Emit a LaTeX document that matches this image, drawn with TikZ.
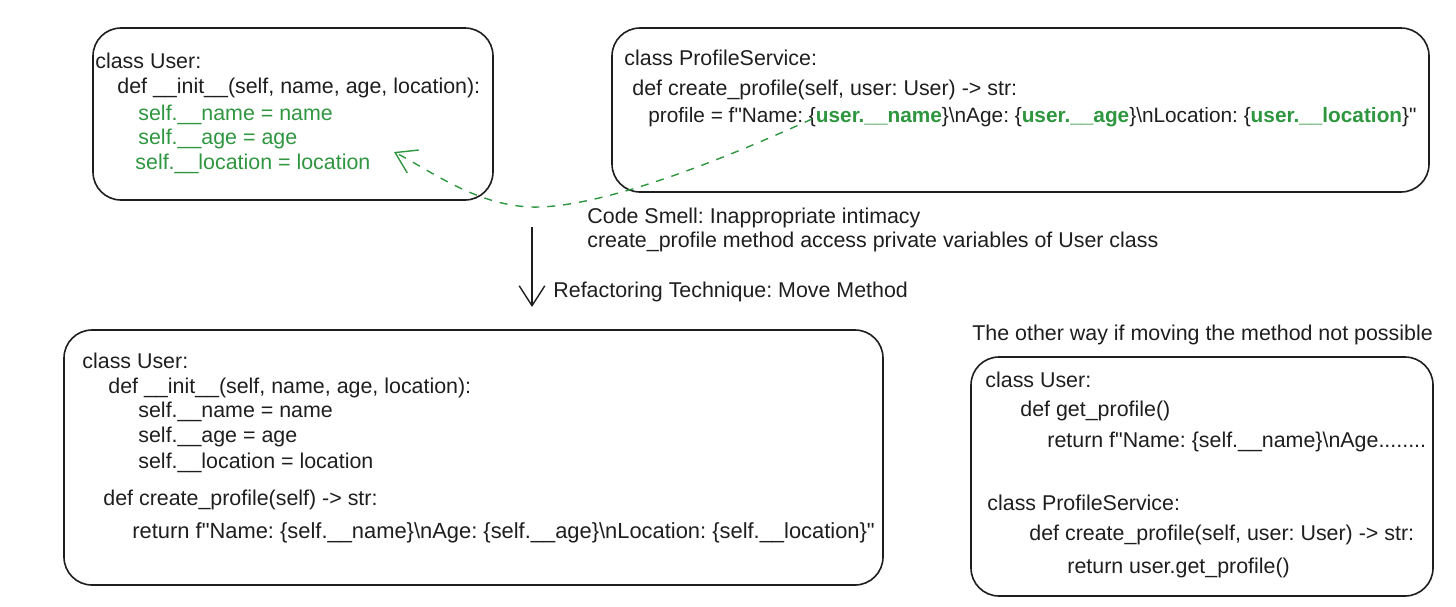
\documentclass[tikz,border=0pt]{standalone}
\usepackage{fontspec}
\setmainfont{Liberation Sans}[Ligatures=TeXOff]
\usetikzlibrary{arrows.meta,positioning}
\definecolor{ink}{RGB}{30,30,30}
\definecolor{grn}{RGB}{47,150,64}
\frenchspacing
\newcommand{\codefont}{\fontsize{10.7}{13}\selectfont}
\newcommand{\hl}[1]{\textcolor{grn}{\textbf{#1}}}
\newcommand{\dq}{\char34\relax}
\tikzset{
  codebox/.style={draw=ink,line width=0.8pt,rounded corners=14pt,inner sep=0pt},
  code/.style={anchor=base west,inner sep=0pt,font=\codefont,text=ink},
  hot/.style={code,text=grn},
  smell/.style={-{Straight Barb[length=3.5mm,width=4.5mm]},dash pattern=on 4pt off 4pt,
    draw=grn,line width=0.7pt},
  movearr/.style={-{Straight Barb[length=3.5mm,width=4.5mm]},draw=ink,line width=0.7pt},
}

\begin{document}
\begin{tikzpicture}[x=0.5pt,y=-0.5pt]
\useasboundingbox (0,0) rectangle (1456,606);
% before: User with private fields
\node[codebox,minimum width=200pt,minimum height=86pt] (olduser) at (293,114) {};
\node[code] (ou1) at (95,68) {class User:};
\node[code] (ou2) at (117,93) {def \_\_init\_\_(self, name, age, location):};
\node[hot] (ou3) at (138,120) {self.\_\_name = name};
\node[hot] (ou4) at (138,144) {self.\_\_age = age};
\node[hot] (ou5) at (135,169) {self.\_\_location = location};
% before: ProfileService reaching into User
\node[codebox,minimum width=408.5pt,minimum height=82pt] (oldsvc) at (1020.5,110) {};
\node[code] (os1) at (624,65) {class ProfileService:};
\node[code] (os2) at (632,95) {def create\_profile(self, user: User) -> str:};
\node[code,font=\fontsize{10.4}{13}\selectfont] (os3) at (648,122)
  {profile = f\dq Name: \{\hl{user.\_\_name}\}\textbackslash nAge: \{\hl{user.\_\_age}\}\textbackslash nLocation: \{\hl{user.\_\_location}\}\dq};
\coordinate (smellfrom) at (812,119);
\coordinate (smellto) at (394,152);
\draw[smell] (smellfrom) .. controls (700,170) and (600,205) .. (540,207)
  .. controls (480,209) and (430,170) .. (smellto);
\node[code] (smell1) at (587,223) {Code Smell: Inappropriate intimacy};
\node[code] (smell2) at (587,247) {create\_profile method access private variables of User class};
% refactoring step
\coordinate (movetop) at (532,227);
\coordinate (movebot) at (532,307);
\draw[movearr] (movetop) -- (movebot);
\node[code] (movelbl) at (553,297) {Refactoring Technique: Move Method};
% after: method moved into User
\node[codebox,minimum width=409.5pt,minimum height=127.5pt] (newuser) at (473.5,457.5) {};
\node[code] (nu1) at (82,368) {class User:};
\node[code] (nu2) at (108,393) {def \_\_init\_\_(self, name, age, location):};
\node[code] (nu3) at (138,417) {self.\_\_name = name};
\node[code] (nu4) at (138,442) {self.\_\_age = age};
\node[code] (nu5) at (138,468) {self.\_\_location = location};
\node[code] (nu6) at (103,505) {def create\_profile(self) -> str:};
\node[code,font=\fontsize{10.95}{13}\selectfont] (nu7) at (132,538)
  {return f\dq Name: \{self.\_\_name\}\textbackslash nAge: \{self.\_\_age\}\textbackslash nLocation: \{self.\_\_location\}\dq};
% alternative: getter on User
\node[code] (altlbl) at (972,340) {The other way if moving the method not possible};
\node[codebox,minimum width=231pt,minimum height=119.5pt] (altbox) at (1202,476.5) {};
\node[code] (al1) at (985,387) {class User:};
\node[code] (al2) at (1020,416) {def get\_profile()};
\node[code] (al3) at (1047,447) {return f\dq Name: \{self.\_\_name\}\textbackslash nAge........};
\node[code] (al4) at (987,510) {class ProfileService:};
\node[code] (al5) at (1029,540) {def create\_profile(self, user: User) -> str:};
\node[code] (al6) at (1067,573) {return user.get\_profile()};
\end{tikzpicture}
\end{document}
